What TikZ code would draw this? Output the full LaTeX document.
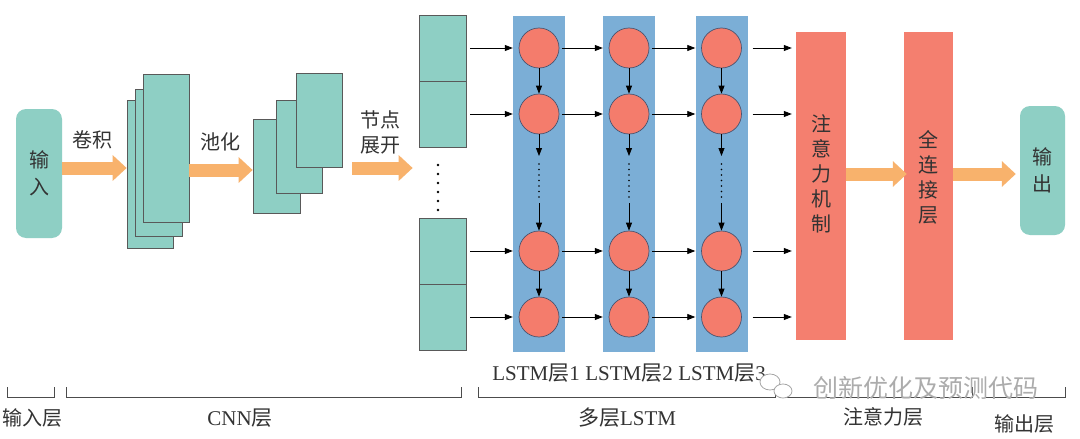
\documentclass[tikz,border=0pt]{standalone}
\usepackage{fontspec}
\setmainfont{Liberation Serif}
\newfontfamily\cjk{Noto Sans CJK SC}
\usetikzlibrary{arrows.meta,calc}
\definecolor{tealc}{HTML}{8ECFC4}
\definecolor{bluec}{HTML}{7BAED6}
\definecolor{salmon}{HTML}{F47C6C}
\definecolor{attc}{HTML}{F47F6F}
\definecolor{orangec}{HTML}{F8B26C}
\definecolor{ringc}{HTML}{4A5470}
\definecolor{txtc}{HTML}{333333}
\begin{document}
\begin{tikzpicture}[x=1pt,y=-1pt,
  tealbox/.style={draw=black!65, line width=0.7pt, fill=tealc, inner sep=0pt},
  roundbox/.style={fill=tealc, rounded corners=10pt, inner sep=0pt, font=\cjk\fontsize{20}{27}\selectfont, align=center, text=txtc, minimum width=46pt, minimum height=129pt},
  lstmcol/.style={fill=bluec, inner sep=0pt, minimum width=52pt, minimum height=336pt},
  neuron/.style={circle, fill=salmon, draw=ringc, line width=0.7pt, minimum size=40pt, inner sep=0pt},
  redbox/.style={fill=attc, inner sep=0pt, minimum width=50pt, minimum height=308pt},
  arr/.style={-{Triangle[length=8pt,width=6pt]}, line width=0.8pt, black},
  fat/.style={orangec, line width=13pt, -{Triangle[length=14pt,width=25pt]}},
  lbl/.style={font=\cjk\fontsize{20}{25}\selectfont, text=txtc, align=center, inner sep=0pt},
  bot/.style={font=\fontsize{21}{25}\selectfont, text=txtc, inner sep=0pt},
  brk/.style={draw=black!70, line width=0.9pt}
]
\useasboundingbox (0,0) rectangle (1080,439);
\fill[white] (0,0) rectangle (1080,439);

% input
\node[roundbox] (in) at (39,173.5) {输\\入};

% conv stack
\node[tealbox, minimum width=46pt, minimum height=148pt] (cv1) at (150,174) {};
\node[tealbox, minimum width=47pt, minimum height=147pt] (cv2) at (158.5,162.5) {};
\node[tealbox, minimum width=46pt, minimum height=148pt] (cv3) at (166,148) {};

% pool stack
\node[tealbox, minimum width=47pt, minimum height=94pt] (pl1) at (276.5,166) {};
\node[tealbox, minimum width=46pt, minimum height=93pt] (pl2) at (299,146.5) {};
\node[tealbox, minimum width=46pt, minimum height=94pt] (pl3) at (319,120) {};

% orange arrows and labels
\draw[fat] ([yshift=5.5pt]in.east) -- ([yshift=5.5pt]in.east -| cv1.west);
\node[lbl] (lconv) at (92,140) {卷积};
\draw[fat] ([yshift=-22pt]cv3.east) -- ([yshift=-22pt]cv3.east -| pl1.west);
\node[lbl] (lpool) at (220,142) {池化};

% flattened column
\foreach \r/\y in {1/48,2/114,3/251,4/317}{
  \node[tealbox, minimum width=47pt, minimum height=66pt] (cell\r) at (442.5,\y) {};
}
\coordinate (dt1) at (438,165);
\coordinate (dt2) at (438,211);
\draw[black, line width=2.6pt, line cap=round, dash pattern=on 0pt off 9pt] (dt1) -- (dt2);
\coordinate (f1) at (352,168);
\draw[fat, shorten >=6pt] (f1) -- (f1 -| cell1.west);
\node[lbl] (lflat) at (380,132) {节点\\展开};

% LSTM columns
\foreach \c/\x in {1/539,2/629,3/721.5}{
  \node[lstmcol] (col\c) at (\x,184) {};
  \foreach \r/\y in {1/48,2/114,3/251,4/317}{
    \node[neuron] (n\c\r) at (\x,\y) {};
  }
  \coordinate (ua\c) at (\x,156);
  \coordinate (ub\c) at (\x,164);
  \coordinate (uc\c) at (\x,197);
  \coordinate (ud\c) at (\x,203);
  \draw[arr] (n\c1) -- (n\c2);
  \draw[arr] (n\c2) -- (ua\c);
  \draw[black, line width=1.7pt, line cap=round, dash pattern=on 0pt off 5.5pt] (ub\c) -- (uc\c);
  \draw[arr] (ud\c) -- (n\c3);
  \draw[arr] (n\c3) -- (n\c4);
}

% attention + fc + output
\node[redbox] (att) at (821,186) {};
\node[lbl] (latt) at (821,174) {注\\意\\力\\机\\制};
\node[redbox, minimum width=49pt] (fc) at (928.5,186) {};
\node[lbl] (lfc) at (928.5,177) {全\\连\\接\\层};
\node[roundbox, minimum width=45pt] (out) at (1042.5,170.5) {输\\出};

% horizontal arrows
\foreach \r in {1,2,3,4}{
  \draw[arr, shorten <=4pt] (cell\r.east) -- (cell\r.east -| col1.west);
  \draw[arr, shorten <=3pt] (n1\r.east) -- (n1\r -| col2.west);
  \draw[arr, shorten <=3pt] (n2\r.east) -- (n2\r -| col3.west);
  \draw[arr, shorten <=5pt, shorten >=4pt] (col3.east |- n3\r) -- (n3\r -| att.west);
}

\draw[fat] ([yshift=12pt]att.east) -- ([yshift=12pt,xshift=3pt]att.east -| fc.west);
\draw[fat] ([yshift=12pt]fc.east) -- ([yshift=12pt,xshift=-4pt]fc.east -| out.west);

% LSTM labels
\node[bot] (ls1) at (536,373) {LSTM{\cjk 层}1};
\node[bot] (ls2) at (629,373) {LSTM{\cjk 层}2};
\node[bot] (ls3) at (722,373) {LSTM{\cjk 层}3};

% brackets
\draw[brk] (7,387) |- (54,397) -- (54,387);
\draw[brk] (66,387) |- (461,397) -- (461,387);
\draw[brk] (478,387) |- (775,397) -- (775,387);
\draw[brk] (785,387) |- (972,397) -- (972,387);
\draw[brk] (985,387) |- (1065,397) -- (1065,387);

\node[bot, font=\cjk\fontsize{20}{25}\selectfont] (b1) at (32,418) {输入层};
\node[bot] (b2) at (240,418) {CNN{\cjk 层}};
\node[bot] (b3) at (627,418) {{\cjk 多层}LSTM};
\node[bot, font=\cjk\fontsize{20}{25}\selectfont] (b4) at (883,417) {注意力层};
\node[bot, font=\cjk\fontsize{20}{25}\selectfont] (b5) at (1024,424) {输出层};

% watermark
\draw[gray!70, fill=white, line width=0.8pt] (770,382) ellipse (10pt and 8pt);
\draw[gray!70, fill=white, line width=0.8pt] (783,391) ellipse (9pt and 7pt);
\node[font=\cjk\fontsize{25}{30}\selectfont, text=gray!65] (wm) at (926,388) {创新优化及预测代码};
\end{tikzpicture}
\end{document}
